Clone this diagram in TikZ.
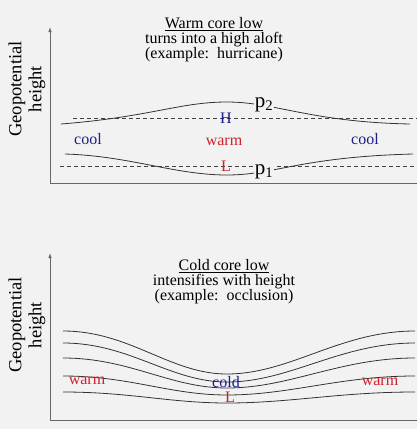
\documentclass[tikz,border=0pt]{standalone}
\usepackage{fontspec}
\setmainfont{Liberation Serif}
\usetikzlibrary{arrows.meta}
\definecolor{bgcol}{RGB}{242,242,242}
\definecolor{coolblue}{RGB}{28,28,140}
\definecolor{warmred}{RGB}{208,32,44}

\begin{document}
\begin{tikzpicture}[x=1pt,y=-1pt,
	txt/.style={font=\fontsize{16}{15}\selectfont,align=center},
	ylab/.style={font=\fontsize{18.5}{20}\selectfont,rotate=90,align=center},
	iso/.style={black!80,line width=.8pt},
	axis/.style={black!60,line width=.8pt},
	lev/.style={fill=bgcol,inner sep=1pt,font=\fontsize{21}{21}\selectfont}]
	\fill[bgcol] (0,0) rectangle (417,429);
	\useasboundingbox (0,0) rectangle (417,429);
	% upper panel: warm core low
	\path
	(50,183) coordinate (O1)
	(50,27) coordinate (Y1)
	(417,183) coordinate (X1);
	\draw[axis,-{Latex[length=5pt,width=3.5pt]}] (X1)--(O1)--(Y1);
	\node[ylab] (gh1) at (27,89) {Geopotential\\height};
	\node[txt] (t1) at (214,40) {\underline{Warm core low}\hspace{14pt}\\turns into a high aloft\\(example:\enspace hurricane)};
	\draw[dashed,dash pattern=on 4pt off 3pt,black!75] (73,118)--(417,118) (60,166)--(417,166);
	\draw[iso] (61,124) .. controls (150,117) and (180,102) .. (227,102) .. controls (275,102) and (310,122) .. (410,124);
	\draw[iso] (65,154) .. controls (130,156) and (175,175) .. (227,175) .. controls (275,175) and (300,157) .. (413,154);
	\node[lev] (p2) at (264,105) {p\textsubscript{2}};
	\node[lev] (p1) at (264,172) {p\textsubscript{1}};
	\foreach \n/\x/\y/\c/\s in {c1/88/139/coolblue/cool,w1/224/142/warmred/warm,c2/365/139/coolblue/cool,
		H/226/118/coolblue/H,L1/226/166/warmred/L}
		\node[txt,text=\c] (\n) at (\x,\y) {\s};
	% lower panel: cold core low
	\path
	(50,420) coordinate (O2)
	(50,253) coordinate (Y2)
	(417,420) coordinate (X2);
	\draw[axis,-{Latex[length=5pt,width=3.5pt]}] (X2)--(O2)--(Y2);
	\node[ylab] (gh2) at (27,325) {Geopotential\\height};
	\node[txt] (t2) at (224,282) {\underline{Cold core low}\hspace{12pt}\\intensifies with height\\(example:\enspace occlusion)};
	\foreach \yl/\yc in {331/374,343/382,358/388,376/395,392/403}
		\draw[iso] (63,\yl) .. controls (130,\yl) and (170,\yc) .. (227,\yc) .. controls (290,\yc) and (340,\yl) .. (415,\yl);
	\foreach \n/\x/\y/\c/\s in {w2/87/381/warmred/warm,w3/380/382/warmred/warm,
		cd/226/382/coolblue/cold,L2/230/397/warmred/L}
		\node[txt,text=\c] (\n) at (\x,\y) {\s};
\end{tikzpicture}
\end{document}
